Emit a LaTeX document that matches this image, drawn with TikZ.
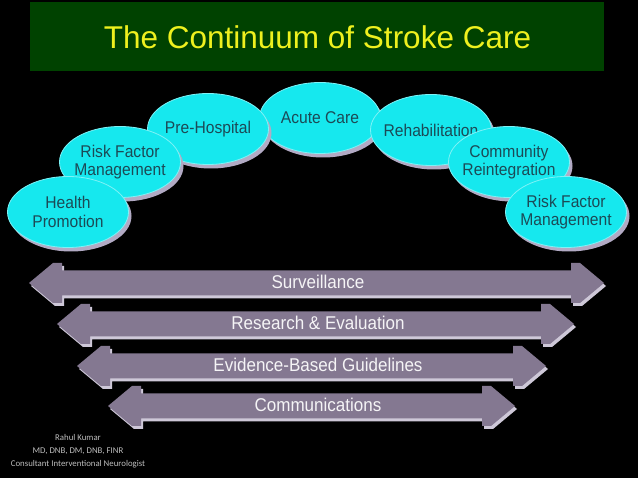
\documentclass[tikz,border=0pt]{standalone}
\usepackage{fontspec}
\setmainfont{Liberation Sans}
\newfontfamily\narrowfont[FakeStretch=0.92]{Liberation Sans}
\newfontfamily\footfont{Carlito}
\usepackage{tikz}
\usetikzlibrary{shapes.geometric,shadows}
\definecolor{TitleGreen}{RGB}{0,66,0}
\definecolor{TitleYellow}{RGB}{238,240,30}
\definecolor{StageCyan}{RGB}{22,232,238}
\definecolor{StageText}{RGB}{28,74,86}
\definecolor{StageShadow}{RGB}{178,170,196}
\definecolor{BandGrey}{RGB}{132,120,145}
\definecolor{BandLight}{RGB}{206,200,216}
\definecolor{FootGrey}{RGB}{190,190,190}

\begin{document}
\begin{tikzpicture}[
    x=1pt, y=-1pt,
    stage/.style    = {ellipse, fill=StageCyan, draw=StageCyan!55!white,
                       line width=0.8pt,
                       minimum width=121pt, minimum height=71pt,
                       inner xsep=-10pt, inner ysep=0pt,
                       align=center, text=StageText,
                       font=\narrowfont\fontsize{17}{18.5}\selectfont},
    stageshadow/.style = {drop shadow={shadow xshift=3pt, shadow yshift=-4pt,
                                       fill=StageShadow, opacity=1}},
    band/.style     = {fill=BandGrey},
    bandshade/.style= {fill=BandLight},
    bandtext/.style = {text=white!92!BandGrey,
                       font=\narrowfont\fontsize{18.5}{20}\selectfont},
    foot/.style     = {text=FootGrey, align=center,
                       font=\footfont\fontsize{8.8}{13}\selectfont},
]

% ─── Background and title ────────────────────────────────────────────────
\useasboundingbox[fill=black] (0,0) rectangle (638,478);
\fill[TitleGreen] (30,2) rectangle (604,71);
\node[text=TitleYellow, font=\fontsize{31.5}{36}\selectfont] (title)
    at (317.5,37) {The Continuum of Stroke Care};

% ─── Stages (drawn from the middle outwards) ─────────────────────────────
\node[stage, stageshadow] (acute)   at (320,118) {Acute Care};
\node[stage, stageshadow] (prehosp) at (208,129) {Pre-Hospital};
\node[stage, stageshadow] (rehab)   at (431,130) {Rehabilitation};
\node[stage, stageshadow] (riskL)   at (120,162) {Risk Factor\\Management};
\node[stage, stageshadow] (commun)  at (509,162) {Community\\Reintegration};
\node[stage, stageshadow] (health)  at (68,212)  {Health\\Promotion};
\node[stage, stageshadow] (riskR)   at (566,212) {Risk Factor\\Management};

% ─── Cross-cutting bands ─────────────────────────────────────────────────
\foreach \L/\R/\c/\txt in {29/604/283/Surveillance,
                           57/574/324/Research \& Evaluation,
                           77/546/366/Evidence-Based Guidelines,
                           108/515/406/Communications}{
  \fill[bandshade, shift={(2,3)}]
    (\L,\c) -- ({\L+24},{\c-20}) -- ({\L+33},{\c-20}) -- ({\L+33},{\c-12.5})
    -- ({\R-33},{\c-12.5}) -- ({\R-33},{\c-20}) -- ({\R-24},{\c-20}) -- (\R,\c)
    -- ({\R-24},{\c+20}) -- ({\R-33},{\c+20}) -- ({\R-33},{\c+12.5})
    -- ({\L+33},{\c+12.5}) -- ({\L+33},{\c+20}) -- ({\L+24},{\c+20}) -- cycle;
  \fill[band]
    (\L,\c) -- ({\L+24},{\c-20}) -- ({\L+33},{\c-20}) -- ({\L+33},{\c-12.5})
    -- ({\R-33},{\c-12.5}) -- ({\R-33},{\c-20}) -- ({\R-24},{\c-20}) -- (\R,\c)
    -- ({\R-24},{\c+20}) -- ({\R-33},{\c+20}) -- ({\R-33},{\c+12.5})
    -- ({\L+33},{\c+12.5}) -- ({\L+33},{\c+20}) -- ({\L+24},{\c+20}) -- cycle;
  \node[bandtext] (band-\c) at (318,{\c-1}) {\txt};
}

% Footer
\node[foot] (author) at (78,451)
    {Rahul Kumar\\MD, DNB, DM, DNB, FINR\\Consultant Interventional Neurologist};

\end{tikzpicture}
\end{document}
